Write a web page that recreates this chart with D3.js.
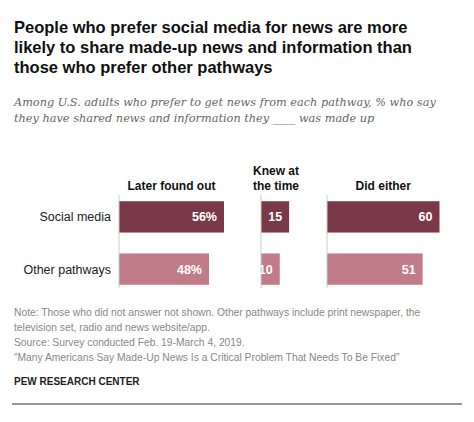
<!DOCTYPE html>
<html><head><meta charset="utf-8">
<script src="https://cdn.jsdelivr.net/npm/d3@7"></script>
<style>body{margin:0;background:#fff}</style>
</head><body>
<svg id="chart" width="474" height="422"></svg>
<script>
// chart values
const groups = ["Social media", "Other pathways"];
const panels = ["Later found out", "Knew at the time", "Did either"];
const laterFoundOut = [56, 48];
const knewAtTime = [15, 10];
const didEither = [60, 51];
const colors = ["#7a3946", "#c07c88"];

const svg = d3.select("#chart");
const font = "Arial, 'Liberation Sans', sans-serif";

const title = ["People who prefer social media for news are more",
  "likely to share made-up news and information than",
  "those who prefer other pathways"];
svg.append("text").attr("font-family", font).attr("font-weight", "bold").attr("font-size", 16.5).attr("fill", "#111")
  .selectAll("tspan").data(title).join("tspan").attr("x", 14).attr("y", (d, i) => 33 + i * 20).text(d => d);

const sub = ["Among U.S. adults who prefer to get news from each pathway, % who say",
  "they have shared news and information they ____ was made up"];
svg.append("text").attr("font-family", "'DejaVu Serif', Georgia, serif").attr("font-style", "italic").attr("font-size", 11.3).attr("fill", "#666")
  .selectAll("tspan").data(sub).join("tspan").attr("x", 14).attr("y", (d, i) => 106 + i * 16).text(d => d);

const y = d3.scaleBand().domain(groups).range([196, 290]).paddingInner(0.4).paddingOuter(0.1);
const x = d3.scaleLinear().domain([0, 100]).range([0, 187.5]);
const panelX = [119, 261, 327];
const panelData = [laterFoundOut, knewAtTime, didEither];
const headers = [["Later found out"], ["Knew at", "the time"], ["Did either"]];

svg.append("g").attr("font-family", font).attr("font-size", 12.5).attr("fill", "#222").attr("text-anchor", "end")
  .selectAll("text").data(groups).join("text")
  .attr("x", 111).attr("y", d => y(d) + y.bandwidth() / 2 + 4.5).text(d => d);

panels.forEach((p, pi) => {
  const g = svg.append("g").attr("transform", `translate(${panelX[pi]},0)`);
  const vals = panelData[pi];
  const maxW = x(d3.max(vals));
  const hd = headers[pi];
  g.append("text").attr("font-family", font).attr("font-weight", "bold").attr("font-size", 12).attr("fill", "#111")
    .attr("text-anchor", "middle")
    .selectAll("tspan").data(hd).join("tspan")
    .attr("x", pi === 1 ? 15 : maxW / 2)
    .attr("y", (d, i) => 190 - (hd.length - 1 - i) * 15).text(d => d);
  g.selectAll("rect").data(vals).join("rect")
    .attr("x", 0).attr("y", (d, i) => y(groups[i])).attr("width", d => x(d)).attr("height", y.bandwidth())
    .attr("fill", (d, i) => colors[i]);
  g.append("line").attr("x1", 0).attr("x2", 0).attr("y1", 195).attr("y2", 288).attr("stroke", "#ccc");
  g.selectAll(".v").data(vals).join("text")
    .attr("font-family", font).attr("font-size", 12.5).attr("font-weight", 600).attr("fill", "#fff").attr("text-anchor", "end")
    .attr("x", d => x(d) - 7).attr("y", (d, i) => y(groups[i]) + y.bandwidth() / 2 + 4.5)
    .text(d => pi === 0 ? d + "%" : d);
});

const notes = ["Note: Those who did not answer not shown. Other pathways include print newspaper, the",
  "television set, radio and news website/app.",
  "Source: Survey conducted Feb. 19-March 4, 2019.",
  "\u201cMany Americans Say Made-Up News Is a Critical Problem That Needs To Be Fixed\u201d"];
svg.append("text").attr("font-family", font).attr("font-size", 10.3).attr("fill", "#888")
  .selectAll("tspan").data(notes).join("tspan").attr("x", 14).attr("y", (d, i) => 316 + i * 15).text(d => d);
svg.append("text").attr("font-family", font).attr("font-weight", "bold").attr("font-size", 10).attr("fill", "#222")
  .attr("x", 14).attr("y", 385).text("PEW RESEARCH CENTER");
svg.append("line").attr("x1", 12).attr("x2", 462).attr("y1", 404).attr("y2", 404).attr("stroke", "#333");
</script>
</body></html>
